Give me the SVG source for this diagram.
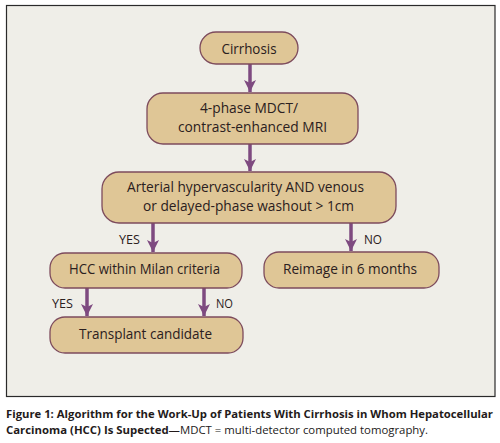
<svg xmlns="http://www.w3.org/2000/svg" width="500" height="443" viewBox="0 0 500 443">
<defs>
<style>
.box{fill:#dfc696;stroke:#7d4b5c;stroke-width:1.3}
.t{font-family:"Open Sans","Liberation Sans",sans-serif;font-size:14.5px;fill:#2b2020;text-anchor:middle}
.lbl{font-family:"Open Sans","Liberation Sans",sans-serif;font-size:12px;fill:#2b2020}
.ar{stroke:#7e4a80;stroke-width:3.5;fill:none}
.cap{font-family:"Open Sans","Liberation Sans",sans-serif;font-size:11px;fill:#231a1a}
</style>
<marker id="ah" markerUnits="userSpaceOnUse" markerWidth="14" markerHeight="14" viewBox="0 0 14 14" refX="12" refY="7" orient="auto">
<path d="M0,1 L12,7 L0,13 L3,7 Z" fill="#7e4a80"/>
</marker>
</defs>
<rect x="0" y="0" width="500" height="443" fill="#ffffff"/>
<rect x="6.5" y="5.5" width="488.5" height="391" fill="#efeee8" stroke="#2a2a2a" stroke-width="1.2"/>
<g id="connectors">
<line class="ar" x1="250" y1="64" x2="250" y2="92" marker-end="url(#ah)"/>
<line class="ar" x1="250" y1="144" x2="250" y2="171" marker-end="url(#ah)"/>
<line class="ar" x1="153" y1="223" x2="153" y2="252" marker-end="url(#ah)"/>
<line class="ar" x1="351" y1="223" x2="351" y2="251" marker-end="url(#ah)"/>
<line class="ar" x1="87" y1="288" x2="87" y2="316" marker-end="url(#ah)"/>
<line class="ar" x1="204" y1="288" x2="204" y2="316" marker-end="url(#ah)"/>
<text class="lbl" x="119" y="243.5" textLength="21" lengthAdjust="spacingAndGlyphs">YES</text>
<text class="lbl" x="364" y="243.5" textLength="18" lengthAdjust="spacingAndGlyphs">NO</text>
<text class="lbl" x="52" y="307.5" textLength="21" lengthAdjust="spacingAndGlyphs">YES</text>
<text class="lbl" x="216" y="307.5" textLength="17" lengthAdjust="spacingAndGlyphs">NO</text>
</g>
<g id="n1">
<rect class="box" x="200" y="32" width="98" height="32" rx="16"/>
<text class="t" x="249" y="54" textLength="55" lengthAdjust="spacingAndGlyphs">Cirrhosis</text>
</g>
<g id="n2">
<rect class="box" x="147" y="93" width="211" height="51" rx="16"/>
<text class="t" x="249" y="112.5" textLength="98" lengthAdjust="spacingAndGlyphs">4-phase MDCT/</text>
<text class="t" x="252.5" y="132" textLength="149" lengthAdjust="spacingAndGlyphs">contrast-enhanced MRI</text>
</g>
<g id="n3">
<rect class="box" x="102" y="172" width="294" height="51" rx="17"/>
<text class="t" x="245.5" y="192" textLength="237" lengthAdjust="spacingAndGlyphs">Arterial hypervascularity AND venous</text>
<text class="t" x="248.5" y="211" textLength="211" lengthAdjust="spacingAndGlyphs">or delayed-phase washout &gt; 1cm</text>
</g>
<g id="n4">
<rect class="box" x="50" y="253" width="192" height="35" rx="15"/>
<text class="t" x="144.5" y="274" textLength="151" lengthAdjust="spacingAndGlyphs">HCC within Milan criteria</text>
</g>
<g id="n5">
<rect class="box" x="264" y="252" width="175" height="36" rx="15"/>
<text class="t" x="350" y="274" textLength="134" lengthAdjust="spacingAndGlyphs">Reimage in 6 months</text>
</g>
<g id="n6">
<rect class="box" x="50" y="317" width="193" height="36" rx="15"/>
<text class="t" x="145.5" y="339" textLength="133" lengthAdjust="spacingAndGlyphs">Transplant candidate</text>
</g>
<text class="cap" x="6" y="417.5" font-weight="bold" textLength="487" lengthAdjust="spacingAndGlyphs">Figure 1: Algorithm for the Work-Up of Patients With Cirrhosis in Whom Hepatocellular</text>
<text class="cap" x="6" y="433.5" font-size="12" textLength="422" lengthAdjust="spacingAndGlyphs"><tspan font-weight="bold">Carcinoma (HCC) Is Supected</tspan>—MDCT = multi-detector computed tomography.</text>
</svg>
